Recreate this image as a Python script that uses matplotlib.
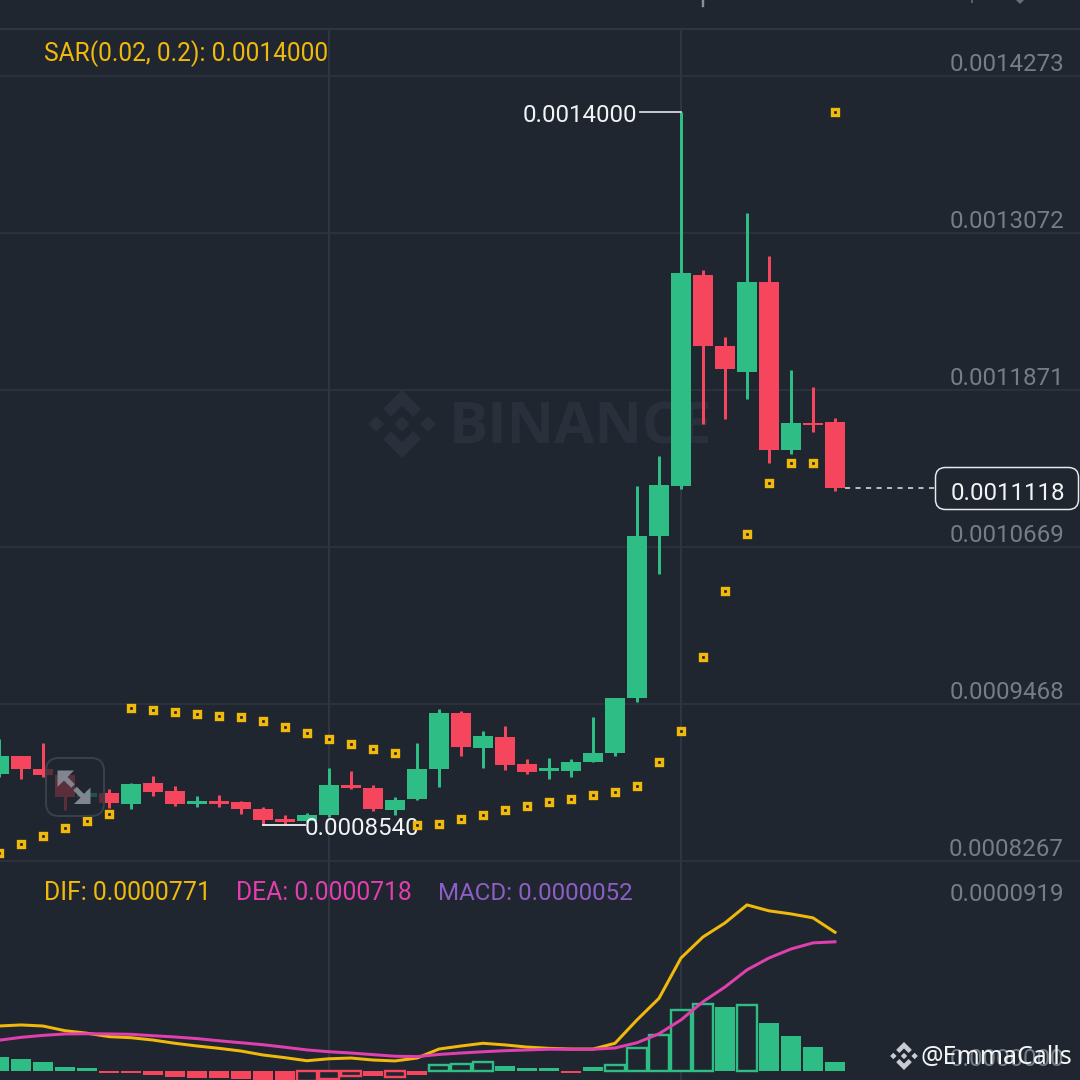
import matplotlib
matplotlib.use("Agg")
import matplotlib.pyplot as plt
from matplotlib.patches import Polygon, FancyBboxPatch

# prices in units of 1e-7
opens = [8930,9070,8973,8925,8757,8790,8701,8861,8800,8703,8726,8721,8665,8586,8575,8619,8846,8823,8657,8739,
         8968,9399,9134,9216,9007,8956,8958,9027,9093,9514,10753,11138,12748,12204,12008,12694,11409,11618,11628]
highs = [9200,9072,9172,8925,8810,8818,8860,8917,8841,8764,8774,8723,8680,8619,8634,8978,8953,8846,8757,9170,
         9430,9417,9262,9300,9047,9053,9045,9366,9514,11136,11365,14000,12790,12276,13226,12895,12023,11891,11656]
lows = [8910,8894,8912,8657,8741,8672,8665,8764,8690,8682,8680,8629,8540,8550,8565,8606,8815,8649,8621,8734,
        8835,9073,8981,8963,8933,8897,8907,9022,9070,9483,10463,11115,11610,11646,11799,11312,11381,11551,11100]
closes = [9073,8969,8925,8754,8787,8708,8858,8795,8703,8728,8705,8662,8583,8565,8619,8848,8823,8662,8736,8968,
          9399,9137,9221,9004,8950,8976,9027,9091,9512,10753,11141,12767,12207,12031,12694,11411,11620,11600,11118]
sar = [8330,8397,8461,8519,8573,8627,9440,9424,9409,9394,9379,9366,9338,9290,9244,9200,9162,9124,9091,8542,
       8552,8588,8621,8655,8685,8716,8744,8772,8797,8841,9024,9259,9828,10329,10769,11159,11312,11312,14000]
dif = [250,256,250,224,210,191,185,172,154,139,126,111,89,74,57,68,72,61,56,72,
       122,139,154,145,133,126,122,122,154,284,404,628,745,823,923,890,873,851,771]
dea = [171,187,198,206,207,206,204,196,189,180,168,157,146,132,117,107,100,91,82,80,
       92,100,107,113,117,121,121,121,128,157,207,284,385,467,562,628,678,712,718]
macd = [80,65,50,24,15,-9,-9,-21,-32,-37,-39,-44,-50,-55,-55,-43,-30,-28,-33,-22,
        33,41,48,26,15,15,-13,22,32,126,202,339,374,354,369,265,196,135,52]
hollow = [0,0,0,0,0,0,0,0,0,0,0,0,0,0,1,1,1,0,1,0,
          1,1,1,0,0,0,0,0,1,1,1,1,1,0,1,0,0,0,0]
price_ticks = [14273,13072,11871,10669,9468,8267]
macd_ticks = [919,0]
vlines = [15,31]
sar_label = "SAR(0.02, 0.2): 0.0014000"
macd_labels = [("DIF: 0.0000771",44,"#F0B90B",17.9),("DEA: 0.0000718",236,"#E23FAE",17.7),("MACD: 0.0000052",438,"#8D5FC4",17.4)]

BG="#1F2630"; GRID="#2E3440"; GREEN="#2EBD85"; RED="#F6465D"; YEL="#F0B90B"; TICK="#767C88"
FONT="Roboto"
FS=17.4
plt.rcParams["font.family"]=[FONT,"DejaVu Sans"]
S=1080
fig=plt.figure(figsize=(10.8,10.8),dpi=100,facecolor=BG)
px=0.72

def overlay(z):
    a=fig.add_axes([0,0,1,1],zorder=z); a.set_xlim(0,S); a.set_ylim(S,0); a.axis("off"); a.patch.set_alpha(0); return a
back=overlay(0); front=overlay(5)
ax=fig.add_axes([0,219/S,1,831/S],zorder=1)
am=fig.add_axes([0,0,1,219/S],zorder=1,sharex=ax)
xlim=(1/22,1/22+S/22)
ax.set_xlim(*xlim); ax.set_ylim(8267,8267+831*1201/157); am.set_ylim(-50,1167)
for a in (ax,am):
    a.axis("off"); a.patch.set_alpha(0)

def logo(a,cx,cy,r,color,z=1):
    polys=[[(0,1),(.56,.44),(.33,.21),(0,.54),(-.33,.21),(-.56,.44)],
           [(0,-1),(.56,-.44),(.33,-.21),(0,-.54),(-.33,-.21),(-.56,-.44)],
           [(0,.23),(.23,0),(0,-.23),(-.23,0)],
           [(-.76,.23),(-.53,0),(-.76,-.23),(-.99,0)],
           [(.76,.23),(.53,0),(.76,-.23),(.99,0)]]
    for p in polys:
        a.add_patch(Polygon([(cx+r*x,cy+r*y) for x,y in p],closed=True,fc=color,ec="none",zorder=z))

# frame and grid
back.plot([0,S],[29,29],color=GRID,lw=2*px)
for t in price_ticks:
    ax.axhline(t,color=GRID,lw=1.6*px,zorder=1,clip_on=False)
    ax.annotate(f"0.{t:07d}",xy=(1,t),xycoords=("axes fraction","data"),xytext=(-16*px,11.5*px),textcoords="offset points",
                ha="right",va="center",color=TICK,fontsize=FS,zorder=2)
for t in macd_ticks:
    am.annotate(f"0.{t:07d}",xy=(1,t),xycoords=("axes fraction","data"),xytext=(-16*px,11.5*px),textcoords="offset points",
                ha="right",va="center",color=TICK,fontsize=FS,zorder=2)
for v in vlines:
    ax.axvline(v,color=GRID,lw=2*px,zorder=1,clip_on=False)
    am.axvline(v,color=GRID,lw=2*px,zorder=1)

# watermark
logo(back,402,424,34,"#2A303B")
back.text(449,428,"BINANCE",color="#2A303B",fontsize=42,fontweight="bold",family="Open Sans",va="center",ha="left",zorder=1)

# candles
for i,(o,h,l,c) in enumerate(zip(opens,highs,lows,closes)):
    col=GREEN if c>=o else RED
    ax.vlines(i,l,h,color=col,lw=3*px,zorder=4)
    ax.bar(i,max(abs(c-o),12),bottom=min(o,c),width=0.9,color=col,edgecolor="none",zorder=4)

# SAR
ax.plot(range(len(sar)),sar,ls="none",marker="s",ms=4.4,mew=2.4,mec=YEL,mfc="#1A1F28",zorder=6)

# hi/lo labels
ax.annotate("0.0014000",xy=(31,14000),xytext=(-44*px,-4*px),textcoords="offset points",ha="right",va="center",
            color="#F2F3F5",fontsize=FS,zorder=5)
ax.plot([31-41/22,31],[14000,14000],color="#D5D7DB",lw=1.8*px,zorder=5)
ax.annotate("0.0008540",xy=(12,8540),xytext=(42*px,-3*px),textcoords="offset points",ha="left",va="center",
            color="#F2F3F5",fontsize=FS,zorder=5)
ax.plot([12,12+42/22],[8540,8540],color="#F2F3F5",lw=1.8*px,zorder=5)

# last price
ax.plot([38.45,42.6],[11118,11118],color="#E8E9EB",lw=1.5*px,ls=(0,(3.4,3.6)),zorder=5)
front.add_patch(FancyBboxPatch((945,477),124,23,boxstyle="round,pad=9.5,rounding_size=10",fc=BG,ec="#E8E9EB",lw=1.5*px,zorder=2))
front.text(1007.5,494,"0.0011118",color="#F2F3F5",fontsize=FS,ha="center",va="center",zorder=3)

# expand icon
front.add_patch(FancyBboxPatch((56,768),38,38,boxstyle="round,pad=10,rounding_size=13",fc=BG,alpha=0.72,ec="none",zorder=2))
front.add_patch(FancyBboxPatch((56,768),38,38,boxstyle="round,pad=10,rounding_size=13",fc="none",ec="#3A404B",lw=2*px,zorder=3))
ICON="#80868F"
for tri,line in (([(57.5,770.5),(74,770.5),(57.5,787)],[(62,775),(73,786)]),
                 ([(90.5,804),(74,804),(90.5,787.5)],[(86,799.5),(75,788.5)])):
    front.add_patch(Polygon(tri,closed=True,fc=ICON,ec="none",zorder=4))
    front.plot(*zip(*line),color=ICON,lw=5*px,solid_capstyle="butt",zorder=4)

# labels
front.text(44,54,sar_label,color=YEL,fontsize=17.65,ha="left",va="center")
for s,x,c,fs in macd_labels:
    front.text(x,893,s,color=c,fontsize=fs,ha="left",va="center")

# MACD pane
for i,(m,h) in enumerate(zip(macd,hollow)):
    col=GREEN if m>=0 else RED
    if h:
        am.bar(i,m,width=0.88,facecolor=BG,edgecolor=col,lw=2.4*px,zorder=3)
    else:
        am.bar(i,m,width=0.9,color=col,edgecolor="none",zorder=3)
am.plot(range(len(dif)),dif,color=YEL,lw=3*px,zorder=4)
am.plot(range(len(dea)),dea,color="#E040AE",lw=3*px,zorder=5)

# top clipped marks
back.plot([703,703],[0,6],color="#8A909A",lw=2.4*px)
back.plot([972,972],[0,2],color="#5A606B",lw=2*px)
logo(back,1020,-4,8,"#6A707B")

# signature
logo(front,904,1056,14,"#C9CCD1",z=6)
front.text(921,1057,"@EmmaCalls",color="#F4F5F6",fontsize=18,family="Noto Sans",ha="left",va="center",zorder=6)

fig.savefig("out.png",dpi=100,facecolor=BG)
